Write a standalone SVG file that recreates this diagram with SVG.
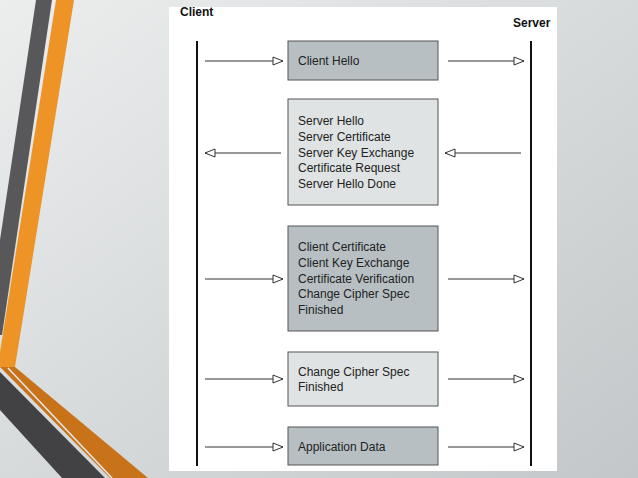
<svg xmlns="http://www.w3.org/2000/svg" width="638" height="478" viewBox="0 0 638 478">
<defs>
<linearGradient id="bg" x1="0" y1="0" x2="1" y2="1"><stop offset="0" stop-color="#eceeee"/><stop offset="1" stop-color="#c3c7c9"/></linearGradient>
<marker id="ah" markerWidth="12" markerHeight="10" refX="11" refY="5" orient="auto" markerUnits="userSpaceOnUse"><path d="M1,1 L11,5 L1,9 Z" fill="#fff" stroke="#333" stroke-width="1"/></marker>
<style>
.t{font-family:"Liberation Sans",Arial,sans-serif;font-size:12px;fill:#222}
.h{font-family:"Liberation Sans",Arial,sans-serif;font-size:12px;font-weight:bold;fill:#111}
.dk{fill:#b7bfc2;stroke:#555;stroke-width:1}
.lt{fill:#dfe3e4;stroke:#555;stroke-width:1}
.c{stroke:#333;stroke-width:1;fill:none;marker-end:url(#ah)}
.ll{stroke:#111;stroke-width:2}
</style>
</defs>
<rect width="638" height="478" fill="url(#bg)"/>
<polygon points="36,0 52,0 2,335 0,335 0,240" fill="#58585a"/>
<polygon points="56,0 74,0 15,367 0,367 0,352" fill="#ee9325"/>
<polygon points="0,367 15,367 148,478 110,478" fill="#c8731a"/>
<polygon points="0,372 105,478 62,478 0,410" fill="#424244"/>
<line x1="8" y1="368" x2="112" y2="478" stroke="#e8e8e8" stroke-width="1.5"/>
<rect x="169" y="7" width="388" height="464" fill="#fff"/>
<text class="h" x="180" y="16">Client</text>
<text class="h" x="513" y="27">Server</text>
<g id="lifelines"><line class="ll" x1="197" y1="41" x2="197" y2="466"/><line class="ll" x1="531" y1="41" x2="531" y2="466"/></g>
<g id="n1"><rect class="dk" x="288" y="41" width="150" height="39"/><text class="t" x="298" y="65">Client Hello</text></g>
<g id="n2"><rect class="lt" x="288" y="99" width="150" height="106"/><text class="t" x="298" y="125">Server Hello</text><text class="t" x="298" y="141">Server Certificate</text><text class="t" x="298" y="157">Server Key Exchange</text><text class="t" x="298" y="172">Certificate Request</text><text class="t" x="298" y="188">Server Hello Done</text></g>
<g id="n3"><rect class="dk" x="288" y="226" width="150" height="105"/><text class="t" x="298" y="251">Client Certificate</text><text class="t" x="298" y="267">Client Key Exchange</text><text class="t" x="298" y="283">Certificate Verification</text><text class="t" x="298" y="298">Change Cipher Spec</text><text class="t" x="298" y="314">Finished</text></g>
<g id="n4"><rect class="lt" x="288" y="352" width="150" height="54"/><text class="t" x="298" y="376">Change Cipher Spec</text><text class="t" x="298" y="391">Finished</text></g>
<g id="n5"><rect class="dk" x="288" y="427" width="150" height="38"/><text class="t" x="298" y="451">Application Data</text></g>
<g id="connectors">
<line class="c" x1="205" y1="61" x2="283" y2="61"/><line class="c" x1="448" y1="61" x2="524" y2="61"/>
<line class="c" x1="281" y1="153" x2="205" y2="153"/><line class="c" x1="521" y1="153" x2="445" y2="153"/>
<line class="c" x1="205" y1="279" x2="283" y2="279"/><line class="c" x1="448" y1="279" x2="524" y2="279"/>
<line class="c" x1="205" y1="379" x2="283" y2="379"/><line class="c" x1="448" y1="379" x2="524" y2="379"/>
<line class="c" x1="205" y1="447" x2="283" y2="447"/><line class="c" x1="448" y1="447" x2="524" y2="447"/>
</g>
</svg>
